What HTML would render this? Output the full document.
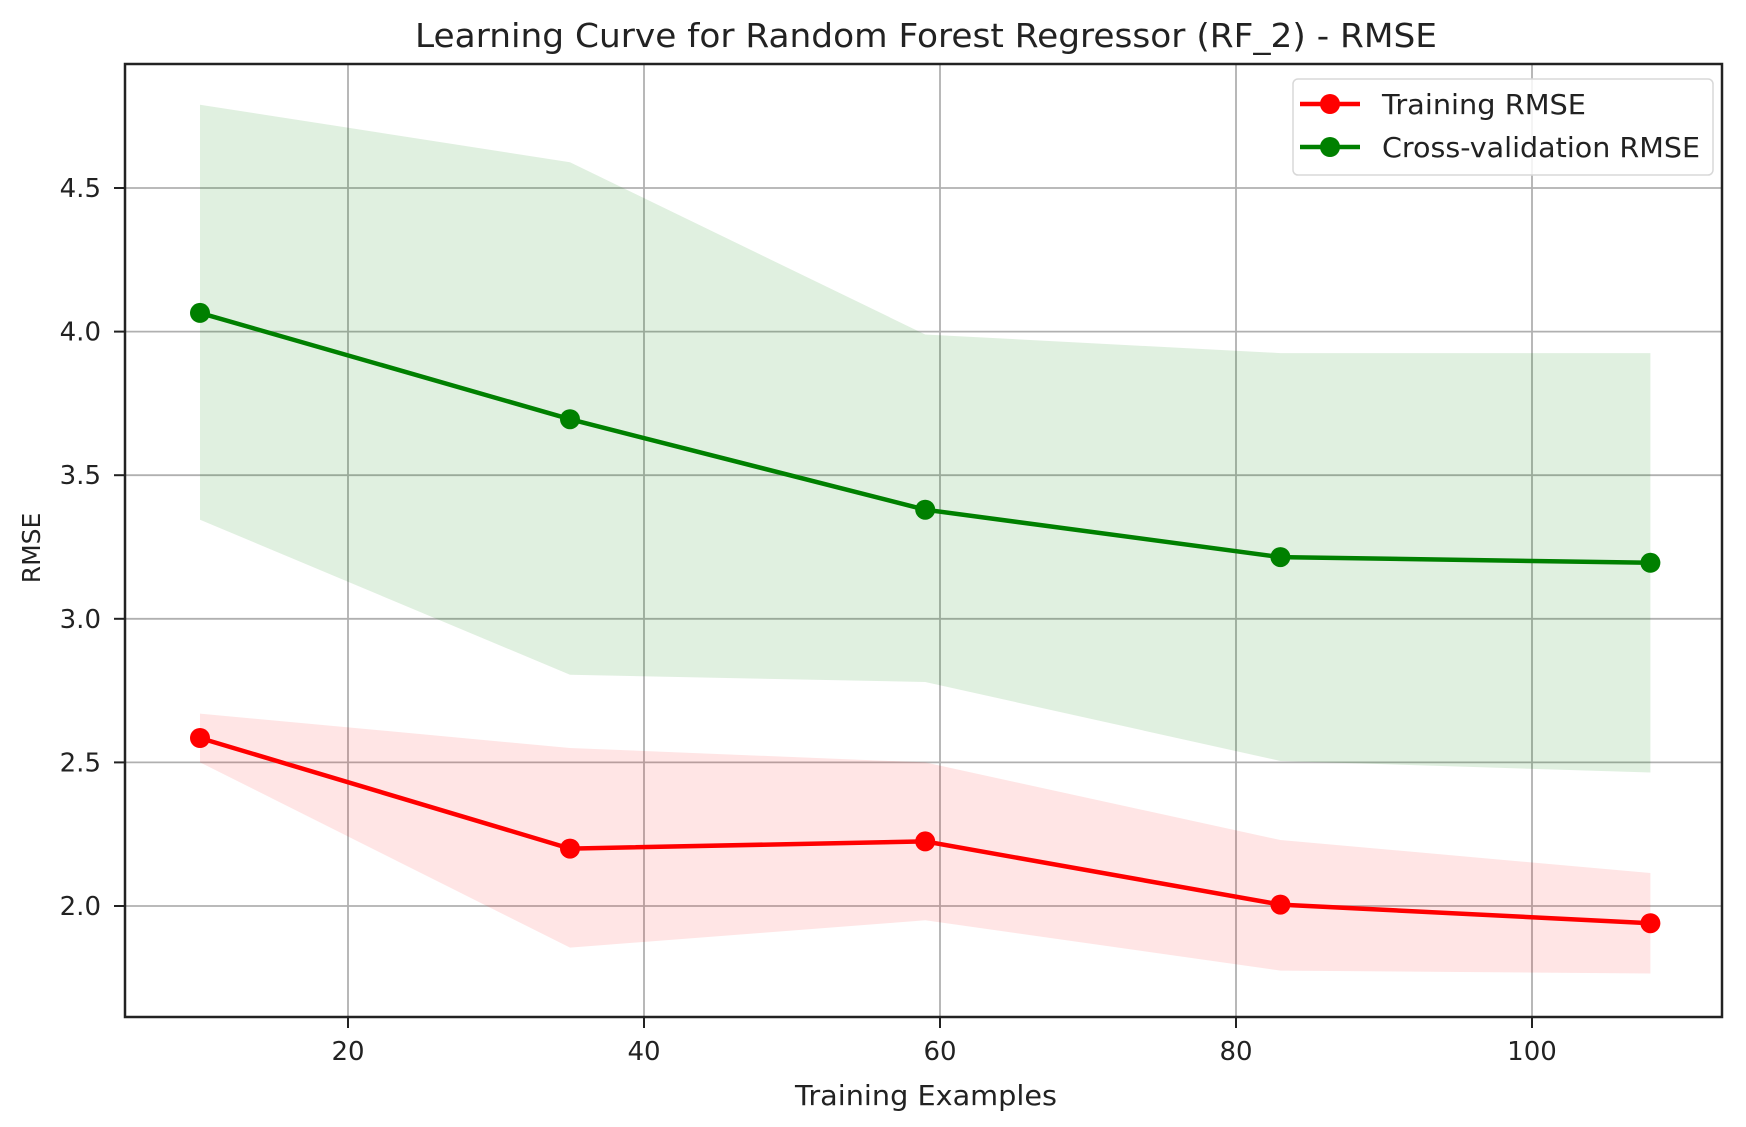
<!DOCTYPE html>
<html><head><meta charset="utf-8"><style>html,body{margin:0;padding:0;background:#fff}svg{display:block}</style></head>
<body>
<svg width="1746" height="1127" xmlns="http://www.w3.org/2000/svg" font-family="DejaVu Sans, Liberation Sans, sans-serif" fill="#222">
<rect width="1746" height="1127" fill="#fff"/>
<text x="926" y="47" font-size="33" text-anchor="middle" textLength="1022" lengthAdjust="spacingAndGlyphs">Learning Curve for Random Forest Regressor (RF_2) - RMSE</text>
<g stroke="#b0b0b0" stroke-width="1.8">
<line x1="125" y1="188" x2="1722" y2="188"/><line x1="125" y1="331.6" x2="1722" y2="331.6"/>
<line x1="125" y1="475.2" x2="1722" y2="475.2"/><line x1="125" y1="618.8" x2="1722" y2="618.8"/>
<line x1="125" y1="762.4" x2="1722" y2="762.4"/><line x1="125" y1="906" x2="1722" y2="906"/>
<line x1="348" y1="64" x2="348" y2="1017"/><line x1="644" y1="64" x2="644" y2="1017"/>
<line x1="940" y1="64" x2="940" y2="1017"/><line x1="1236" y1="64" x2="1236" y2="1017"/>
<line x1="1532" y1="64" x2="1532" y2="1017"/>
</g>
<polygon fill="#008000" fill-opacity="0.12" points="200,104.7 570,162.2 925.2,334.5 1280.4,353.1 1650.4,353.1 1650.4,772.5 1280.4,761 925.2,682 570,674.8 200,519.7"/>
<polygon fill="#ff0000" fill-opacity="0.1" points="200,713.6 570,748 925.2,762.4 1280.4,840 1650.4,873 1650.4,973.5 1280.4,970.6 925.2,920.3 570,947.6 200,762.4"/>
<polyline fill="none" stroke="#008000" stroke-width="4.5" points="200,312.9 570,419.2 925.2,509.7 1280.4,557.1 1650.4,562.8"/>
<polyline fill="none" stroke="#ff0000" stroke-width="4.5" points="200,738 570,848.6 925.2,841.4 1280.4,904.6 1650.4,923.2"/>
<g fill="#008000"><circle cx="200" cy="312.9" r="10"/><circle cx="570" cy="419.2" r="10"/><circle cx="925.2" cy="509.7" r="10"/><circle cx="1280.4" cy="557.1" r="10"/><circle cx="1650.4" cy="562.8" r="10"/></g>
<g fill="#ff0000"><circle cx="200" cy="738" r="10"/><circle cx="570" cy="848.6" r="10"/><circle cx="925.2" cy="841.4" r="10"/><circle cx="1280.4" cy="904.6" r="10"/><circle cx="1650.4" cy="923.2" r="10"/></g>
<rect x="125" y="64" width="1597" height="953" fill="none" stroke="#222" stroke-width="2.5"/>
<g stroke="#222" stroke-width="2">
<line x1="114" y1="188" x2="125" y2="188"/><line x1="114" y1="331.6" x2="125" y2="331.6"/><line x1="114" y1="475.2" x2="125" y2="475.2"/>
<line x1="114" y1="618.8" x2="125" y2="618.8"/><line x1="114" y1="762.4" x2="125" y2="762.4"/><line x1="114" y1="906" x2="125" y2="906"/>
<line x1="348" y1="1017" x2="348" y2="1028"/><line x1="644" y1="1017" x2="644" y2="1028"/><line x1="940" y1="1017" x2="940" y2="1028"/>
<line x1="1236" y1="1017" x2="1236" y2="1028"/><line x1="1532" y1="1017" x2="1532" y2="1028"/>
</g>
<g font-size="26" text-anchor="end">
<text x="101" y="197">4.5</text><text x="101" y="340.6">4.0</text><text x="101" y="484.2">3.5</text>
<text x="101" y="627.8">3.0</text><text x="101" y="771.4">2.5</text><text x="101" y="915">2.0</text>
</g>
<g font-size="26" text-anchor="middle">
<text x="348" y="1060">20</text><text x="644" y="1060">40</text><text x="940" y="1060">60</text>
<text x="1236" y="1060">80</text><text x="1532" y="1060">100</text>
</g>
<text x="926" y="1105" font-size="28" text-anchor="middle" textLength="262" lengthAdjust="spacingAndGlyphs">Training Examples</text>
<text transform="translate(40,548) rotate(-90)" font-size="25" text-anchor="middle">RMSE</text>
<rect x="1293" y="79" width="420" height="96" rx="5" fill="#fff" fill-opacity="0.85" stroke="#d8d8d8" stroke-width="1.5"/>
<line x1="1300" y1="104" x2="1360" y2="104" stroke="#ff0000" stroke-width="4.5"/><circle cx="1330" cy="104" r="10" fill="#ff0000"/>
<line x1="1300" y1="147" x2="1360" y2="147" stroke="#008000" stroke-width="4.5"/><circle cx="1330" cy="147" r="10" fill="#008000"/>
<text x="1382" y="114" font-size="28" textLength="204" lengthAdjust="spacingAndGlyphs">Training RMSE</text>
<text x="1382" y="157" font-size="28" textLength="318" lengthAdjust="spacingAndGlyphs">Cross-validation RMSE</text>
</svg>
</body></html>
